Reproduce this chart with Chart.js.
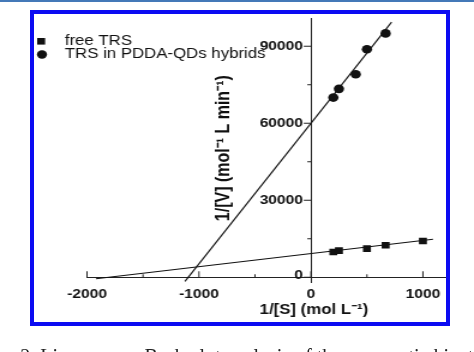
<!DOCTYPE html>
<html>
<head>
<meta charset="utf-8">
<script src="https://cdn.jsdelivr.net/npm/chart.js@4.4.1/dist/chart.umd.min.js"></script>
<style>
  html, body { margin: 0; padding: 0; background: #fff; }
  body { width: 474px; height: 352px; position: relative; overflow: hidden; }
  #topline { position: absolute; left: 0; top: 0; width: 474px; height: 2px; background: #4479b8; }
  #wrap { position: absolute; left: 0; top: 0; width: 395px; height: 352px; transform: scaleX(1.2); transform-origin: 0 0; }
  #frame { position: absolute; left: 30px; top: 10px; width: 412px; height: 308px; border: 4px solid #0b0bf2; }
  #caption { position: absolute; left: -37px; top: 346px; white-space: nowrap; font: 20px "Liberation Serif", serif; line-height: 20px; color: #222; }
</style>
</head>
<body>
<div id="topline"></div>
<div id="wrap"><canvas id="myChart" width="395" height="352"></canvas></div>
<div id="frame"></div>
<div id="caption">Figure 2. Lineweaver–Burk plot analysis of the enzymatic kinetics of free TRS and TRS in PDDA-QDs hybrids.</div>
<script>
// 1/[S] and 1/[V]
const freeX = [200, 250, 500, 667, 1000];
const freeY = [9860, 10400, 11180, 12470, 14140];
const hybX = [200, 250, 400, 500, 667];
const hybY = [70000, 73400, 79100, 88800, 95000];

// fitted lines (end points)
const freeFitX = [-1920, 1090];
const freeFitY = [-600, 14825];
const hybFitX = [-1125, 720];
const hybFitY = [-1600, 99400];

const seriesNames = ['free TRS', 'TRS in PDDA-QDs hybrids'];
const xTicks = [-2000, -1000, 0, 1000];
const xMinor = [-1500, -500, 500];
const yTicks = [0, 30000, 60000, 90000];
const yMinor = [15000, 45000, 75000];
const xTitle = '1/[S] (mol L⁻¹)';
const yTitle = '1/[V] (mol⁻¹ L min⁻¹)';

function pts(xs, ys) {
  return xs.map((x, i) => ({ x: x, y: ys[i] }));
}

const tickFont = { family: 'Liberation Sans', size: 13, weight: 'bold' };

// tick marks (major + minor), y tick labels, axis titles and the legend
const extras = {
  id: 'extras',
  afterDraw(chart) {
    const ctx = chart.ctx;
    const xs = chart.scales.x, ys = chart.scales.y;
    const axisY = ys.getPixelForValue(0);
    const axisX = xs.getPixelForValue(0);
    const area = chart.chartArea;
    ctx.save();
    ctx.strokeStyle = '#222';
    ctx.lineWidth = 1;
    ctx.beginPath();
    xTicks.forEach(v => { const p = xs.getPixelForValue(v); ctx.moveTo(p, axisY); ctx.lineTo(p, axisY - 6); });
    xMinor.forEach(v => { const p = xs.getPixelForValue(v); ctx.moveTo(p, axisY); ctx.lineTo(p, axisY - 3); });
    yTicks.forEach(v => { const p = ys.getPixelForValue(v); ctx.moveTo(axisX, p); ctx.lineTo(axisX - 6, p); });
    yMinor.forEach(v => { const p = ys.getPixelForValue(v); ctx.moveTo(axisX, p); ctx.lineTo(axisX - 3, p); });
    ctx.stroke();

    ctx.fillStyle = '#111';
    // y tick labels
    ctx.font = 'bold 13px "Liberation Sans"';
    ctx.textAlign = 'right';
    ctx.textBaseline = 'middle';
    yTicks.forEach(v => ctx.fillText(String(v), axisX - 6.6, ys.getPixelForValue(v) - (v === 0 ? 2 : 0)));

    // x axis title
    ctx.font = 'bold 14px "Liberation Sans"';
    ctx.textAlign = 'center';
    ctx.fillText(xTitle, axisX + 2.5, 310);

    // y axis title, reading bottom to top
    ctx.save();
    ctx.translate(axisX - 73, (area.top + area.bottom) / 2 - 2);
    ctx.rotate(-Math.PI / 2);
    ctx.font = 'bold 16px "Liberation Sans"';
    ctx.fillText(yTitle, 0, 0);
    ctx.restore();

    // legend
    ctx.fillRect(31, 38, 6.6, 6.6);
    ctx.beginPath();
    ctx.arc(35, 54.5, 4.2, 0, Math.PI * 2);
    ctx.fill();
    ctx.font = '14px "Liberation Sans"';
    ctx.textAlign = 'left';
    ctx.fillText(seriesNames[0], 54, 41);
    ctx.fillText(seriesNames[1], 54, 54.5);
    ctx.restore();
  }
};

const data = {
  datasets: [
    {
      label: 'free fit',
      data: pts(freeFitX, freeFitY),
      showLine: true,
      borderColor: '#111',
      borderWidth: 1.1,
      pointRadius: 0,
      order: 3
    },
    {
      label: 'hybrid fit',
      data: pts(hybFitX, hybFitY),
      showLine: true,
      borderColor: '#111',
      borderWidth: 1.1,
      pointRadius: 0,
      order: 3
    },
    {
      label: seriesNames[0],
      data: pts(freeX, freeY),
      pointStyle: 'rect',
      pointRadius: 4.7,
      backgroundColor: '#111',
      borderColor: '#111',
      borderWidth: 0,
      order: 1
    },
    {
      label: seriesNames[1],
      data: pts(hybX, hybY),
      pointStyle: 'circle',
      pointRadius: 4.3,
      backgroundColor: '#111',
      borderColor: '#111',
      borderWidth: 0,
      order: 1
    }
  ]
};

const config = {
  type: 'scatter',
  data: data,
  options: {
    responsive: false,
    animation: false,
    layout: { padding: { left: 72.5, right: 22.5, top: 18, bottom: 69.6 } },
    plugins: {
      legend: { display: false },
      tooltip: { enabled: false }
    },
    scales: {
      x: {
        type: 'linear',
        position: { y: 0 },
        min: -2000,
        max: 1215,
        afterBuildTicks: scale => { scale.ticks = xTicks.map(v => ({ value: v })); },
        grid: { display: false, drawTicks: false, tickLength: 0 },
        border: { display: true, color: '#222', width: 1 },
        ticks: {
          padding: 9,
          color: '#111',
          font: tickFont,
          maxRotation: 0,
          autoSkip: false,
          callback: v => String(v)
        }
      },
      y: {
        type: 'linear',
        position: { x: 0 },
        min: -2000,
        max: 101000,
        afterBuildTicks: scale => { scale.ticks = yTicks.map(v => ({ value: v })); },
        grid: { display: false, drawTicks: false, tickLength: 0 },
        border: { display: true, color: '#222', width: 1 },
        ticks: { display: false }
      }
    }
  },
  plugins: [extras]
};

var myChart = new Chart(document.getElementById('myChart'), config);
</script>
</body>
</html>
